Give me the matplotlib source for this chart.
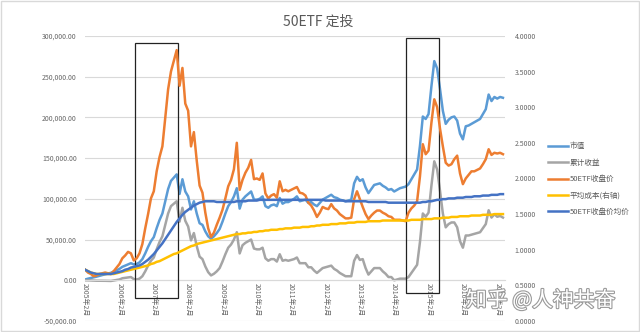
import matplotlib
matplotlib.use("Agg")
import matplotlib.pyplot as plt
import matplotlib.patheffects as pe
from matplotlib.patches import Rectangle
from matplotlib.ticker import FuncFormatter, MultipleLocator
import numpy as np
import pandas as pd

plt.rcParams['font.family'] = ['Noto Sans CJK SC', 'DejaVu Sans']

title = "50ETF 定投"
labels = ['市值', '累计收益', '50ETF收盘价', '平均成本(右轴)', '50ETF收盘价均价']
colors = ['#5B9BD5', '#A5A5A5', '#ED7D31', '#FFC000', '#4472C4']

months = pd.date_range('2005-02-01', periods=147, freq='MS')

# 市值 (left axis, thousands)
market_value_k = [1, 2, 2.8, 3.6, 4.5, 5.5, 6.5, 7.4, 8.3, 9.2, 10.8, 12.5, 14, 16.5, 18, 19.5, 21, 19.5, 20, 22,
                  26, 33, 41, 48, 53, 64, 74, 82, 97, 112, 122, 126, 130, 106, 124, 109, 103, 87, 97, 82,
                  70, 68, 60, 54, 51, 54, 58, 63, 72, 82, 91, 96, 103, 113, 88, 99, 103, 106, 109, 99,
                  99, 100, 103, 91, 89, 92, 93, 91, 101, 94, 96, 96, 98, 100, 103, 97, 98, 99, 95, 96,
                  93, 91, 95, 99, 101, 103, 105, 102, 101, 99, 98, 97, 98, 99, 119, 127, 122, 124, 114, 107,
                  112, 117, 118, 119, 116, 114, 111, 112, 109, 111, 113, 114, 115, 118, 124, 130, 136, 165, 201, 198,
                  204, 238, 269, 260, 235, 208, 192, 197, 200, 201, 196, 180, 173, 189, 190, 192, 194, 196, 198, 204,
                  210, 228, 220, 225, 223, 225, 224]
# 累计收益 (left axis, thousands)
cum_return_k = [0, 0, -0.2, -0.4, -0.5, -0.5, -0.5, -0.6, -0.7, -0.8, -0.2, 0.5, 1, 2.5, 3, 3.5, 4, 1.5, 1, 2,
                5, 11, 18, 24, 28, 38, 47, 54, 68, 82, 91, 94, 97, 72, 89, 73, 66, 49, 58, 42,
                29, 26, 17, 10, 6, 8, 11, 15, 23, 32, 40, 44, 50, 59, 33, 43, 46, 48, 50, 39,
                38, 38, 40, 27, 24, 26, 26, 23, 32, 24, 25, 24, 25, 26, 28, 21, 21, 21, 16, 16,
                12, 9, 12, 15, 16, 17, 18, 14, 12, 9, 7, 5, 5, 5, 24, 31, 25, 26, 15, 7,
                11, 15, 15, 15, 11, 8, 4, 4, 0, 1, 2, 2, 2, 4, 9, 14, 19, 47, 82, 78,
                83, 116, 146, 136, 110, 82, 65, 69, 71, 71, 65, 48, 40, 55, 55, 56, 57, 58, 59, 64,
                69, 86, 77, 81, 78, 79, 77]
# 50ETF收盘价 (right axis)
close_price = [0.72, 0.68, 0.66, 0.63, 0.64, 0.66, 0.67, 0.68, 0.67, 0.66, 0.70, 0.75, 0.80, 0.88, 0.92, 0.97, 0.95, 0.85, 0.88, 0.95,
               1.08, 1.30, 1.50, 1.72, 1.82, 2.10, 2.30, 2.45, 2.85, 3.25, 3.50, 3.65, 3.80, 3.30, 3.55, 3.05, 2.95, 2.45, 2.65, 2.25,
               1.90, 1.80, 1.52, 1.30, 1.18, 1.24, 1.35, 1.45, 1.56, 1.72, 1.89, 1.98, 2.13, 2.50, 1.84, 1.98, 2.08, 2.15, 2.26, 1.99,
               2.00, 1.98, 2.07, 1.79, 1.72, 1.76, 1.78, 1.73, 1.96, 1.82, 1.84, 1.82, 1.84, 1.86, 1.88, 1.80, 1.79, 1.76, 1.66, 1.62,
               1.55, 1.46, 1.52, 1.60, 1.58, 1.57, 1.64, 1.58, 1.55, 1.50, 1.47, 1.44, 1.44, 1.45, 1.71, 1.82, 1.71, 1.60, 1.50, 1.43,
               1.48, 1.52, 1.55, 1.55, 1.52, 1.50, 1.47, 1.46, 1.42, 1.42, 1.42, 1.41, 1.40, 1.52, 1.58, 1.62, 1.68, 2.03, 2.48, 2.34,
               2.39, 2.78, 3.11, 3.00, 2.70, 2.45, 2.22, 2.18, 2.20, 2.27, 2.32, 2.07, 1.92, 2.00, 2.05, 2.10, 2.10, 2.12, 2.14, 2.20,
               2.27, 2.41, 2.33, 2.36, 2.35, 2.36, 2.34]
# 平均成本 (right axis)
avg_cost = [0.72, 0.70, 0.68, 0.67, 0.66, 0.66, 0.66, 0.66, 0.66, 0.66, 0.66, 0.67, 0.68, 0.69, 0.70, 0.71, 0.72, 0.73, 0.74, 0.75,
            0.76, 0.77, 0.78, 0.80, 0.81, 0.83, 0.84, 0.86, 0.88, 0.90, 0.92, 0.94, 0.95, 0.97, 0.99, 1.01, 1.03, 1.05, 1.06, 1.08,
            1.09, 1.10, 1.11, 1.12, 1.13, 1.14, 1.15, 1.16, 1.17, 1.18, 1.19, 1.20, 1.21, 1.22, 1.22, 1.23, 1.23, 1.24, 1.24, 1.25,
            1.25, 1.26, 1.26, 1.27, 1.27, 1.28, 1.28, 1.28, 1.29, 1.29, 1.30, 1.30, 1.30, 1.31, 1.31, 1.31, 1.32, 1.32, 1.32, 1.33,
            1.33, 1.34, 1.34, 1.35, 1.35, 1.35, 1.36, 1.36, 1.36, 1.37, 1.37, 1.37, 1.38, 1.38, 1.38, 1.39, 1.39, 1.39, 1.39, 1.40,
            1.40, 1.40, 1.40, 1.40, 1.41, 1.41, 1.41, 1.41, 1.41, 1.41, 1.41, 1.41, 1.41, 1.41, 1.42, 1.42, 1.42, 1.42, 1.43, 1.43,
            1.43, 1.43, 1.44, 1.44, 1.44, 1.45, 1.45, 1.45, 1.46, 1.46, 1.46, 1.47, 1.47, 1.47, 1.47, 1.48, 1.48, 1.48, 1.48, 1.49,
            1.49, 1.49, 1.49, 1.50, 1.50, 1.50, 1.50]
# 50ETF收盘价均价 (right axis)
avg_close = [0.72, 0.70, 0.68, 0.67, 0.66, 0.66, 0.66, 0.66, 0.66, 0.66, 0.67, 0.68, 0.69, 0.70, 0.72, 0.73, 0.75, 0.76, 0.77, 0.78,
             0.80, 0.83, 0.86, 0.90, 0.94, 0.99, 1.04, 1.09, 1.15, 1.21, 1.27, 1.33, 1.39, 1.44, 1.49, 1.53, 1.56, 1.59, 1.62, 1.64,
             1.66, 1.67, 1.68, 1.68, 1.68, 1.68, 1.67, 1.67, 1.67, 1.67, 1.67, 1.67, 1.67, 1.68, 1.68, 1.68, 1.68, 1.69, 1.69, 1.69,
             1.69, 1.70, 1.70, 1.70, 1.70, 1.70, 1.70, 1.70, 1.70, 1.70, 1.70, 1.70, 1.70, 1.70, 1.70, 1.70, 1.70, 1.70, 1.70, 1.70,
             1.70, 1.70, 1.70, 1.70, 1.69, 1.69, 1.69, 1.69, 1.69, 1.69, 1.69, 1.68, 1.68, 1.68, 1.68, 1.68, 1.68, 1.68, 1.68, 1.67,
             1.67, 1.67, 1.67, 1.67, 1.67, 1.67, 1.66, 1.66, 1.66, 1.66, 1.66, 1.66, 1.66, 1.66, 1.66, 1.66, 1.66, 1.66, 1.67, 1.67,
             1.68, 1.68, 1.69, 1.70, 1.70, 1.71, 1.71, 1.72, 1.72, 1.72, 1.73, 1.73, 1.73, 1.74, 1.74, 1.74, 1.75, 1.75, 1.75, 1.76,
             1.76, 1.76, 1.77, 1.77, 1.77, 1.78, 1.78]

# highlight boxes (month index range, left-axis value range)
boxes = [((17.4, 32.4), (-22000, 291000)), ((112.0, 123.5), (-16000, 297000))]

x = np.arange(len(months))
mv = np.array(market_value_k) * 1000
cr = np.array(cum_return_k) * 1000

fig = plt.figure(figsize=(6.4, 3.32), dpi=100)
fig.patch.set_facecolor('white')
ax = fig.add_axes([0.133, 0.033, 0.656, 0.859])
ax2 = ax.twinx()

lw = 1.8
ax.plot(x, mv, color=colors[0], lw=lw, label=labels[0], solid_joinstyle='round')
ax.plot(x, cr, color=colors[1], lw=lw, label=labels[1], solid_joinstyle='round')
ax2.plot(x, close_price, color=colors[2], lw=lw, label=labels[2], solid_joinstyle='round')
ax2.plot(x, avg_cost, color=colors[3], lw=lw, label=labels[3], solid_joinstyle='round')
ax2.plot(x, avg_close, color=colors[4], lw=lw, label=labels[4], solid_joinstyle='round')

ax.set_ylim(-50000, 300000)
ax2.set_ylim(0, 4)
ax.set_xlim(0, 146.7)
ax.yaxis.set_major_locator(MultipleLocator(50000))
ax2.yaxis.set_major_locator(MultipleLocator(0.5))
ax.yaxis.set_major_formatter(FuncFormatter(lambda v, p: f"{v:,.2f}"))
ax2.yaxis.set_major_formatter(FuncFormatter(lambda v, p: f"{v:.4f}"))

ax.grid(axis='y', color='#D9D9D9', lw=0.8)
ax.set_axisbelow(True)
for a in (ax, ax2):
    for s in a.spines.values():
        s.set_visible(False)
    a.tick_params(length=0, labelsize=5, labelcolor='#666666')
ax.spines['bottom'].set_visible(True)
ax.spines['bottom'].set_position(('data', 0))
ax.spines['bottom'].set_color('#D9D9D9')
ax.tick_params(axis='y', pad=6)
ax2.tick_params(axis='y', pad=7)

tick_idx = list(range(0, len(months), 12))
ax.set_xticks(tick_idx)
ax.set_xticklabels([f"{months[i].year}年{months[i].month}月" for i in tick_idx],
                   rotation=-90, fontsize=5, color='#666666')
ax.tick_params(axis='x', pad=2)

for (x0, x1), (y0, y1) in boxes:
    ax.add_patch(Rectangle((x0, y0), x1 - x0, y1 - y0, fill=False, edgecolor='#222222', lw=0.9, zorder=10, clip_on=False))

fig.text(0.497, 0.935, title, ha='center', va='center', fontsize=10, color='#595959')

h1, l1 = ax.get_legend_handles_labels()
h2, l2 = ax2.get_legend_handles_labels()
leg = fig.legend(h1 + h2, l1 + l2, loc='center left', bbox_to_anchor=(0.845, 0.46), frameon=False,
                 fontsize=5.5, labelcolor='#595959', handlelength=2.6, handletextpad=0.3, labelspacing=1.1)

fig.text(0.845, 0.095, "知乎 @人神共奋", ha='center', va='center', fontsize=15, color='white',
         path_effects=[pe.withStroke(linewidth=1.6, foreground='#9a9a9a')], zorder=20)

fig.add_artist(Rectangle((0.002, 0.004), 0.996, 0.992, transform=fig.transFigure, fill=False,
                         edgecolor='#D9D9D9', lw=1))

fig.savefig('out.png', dpi=100)
